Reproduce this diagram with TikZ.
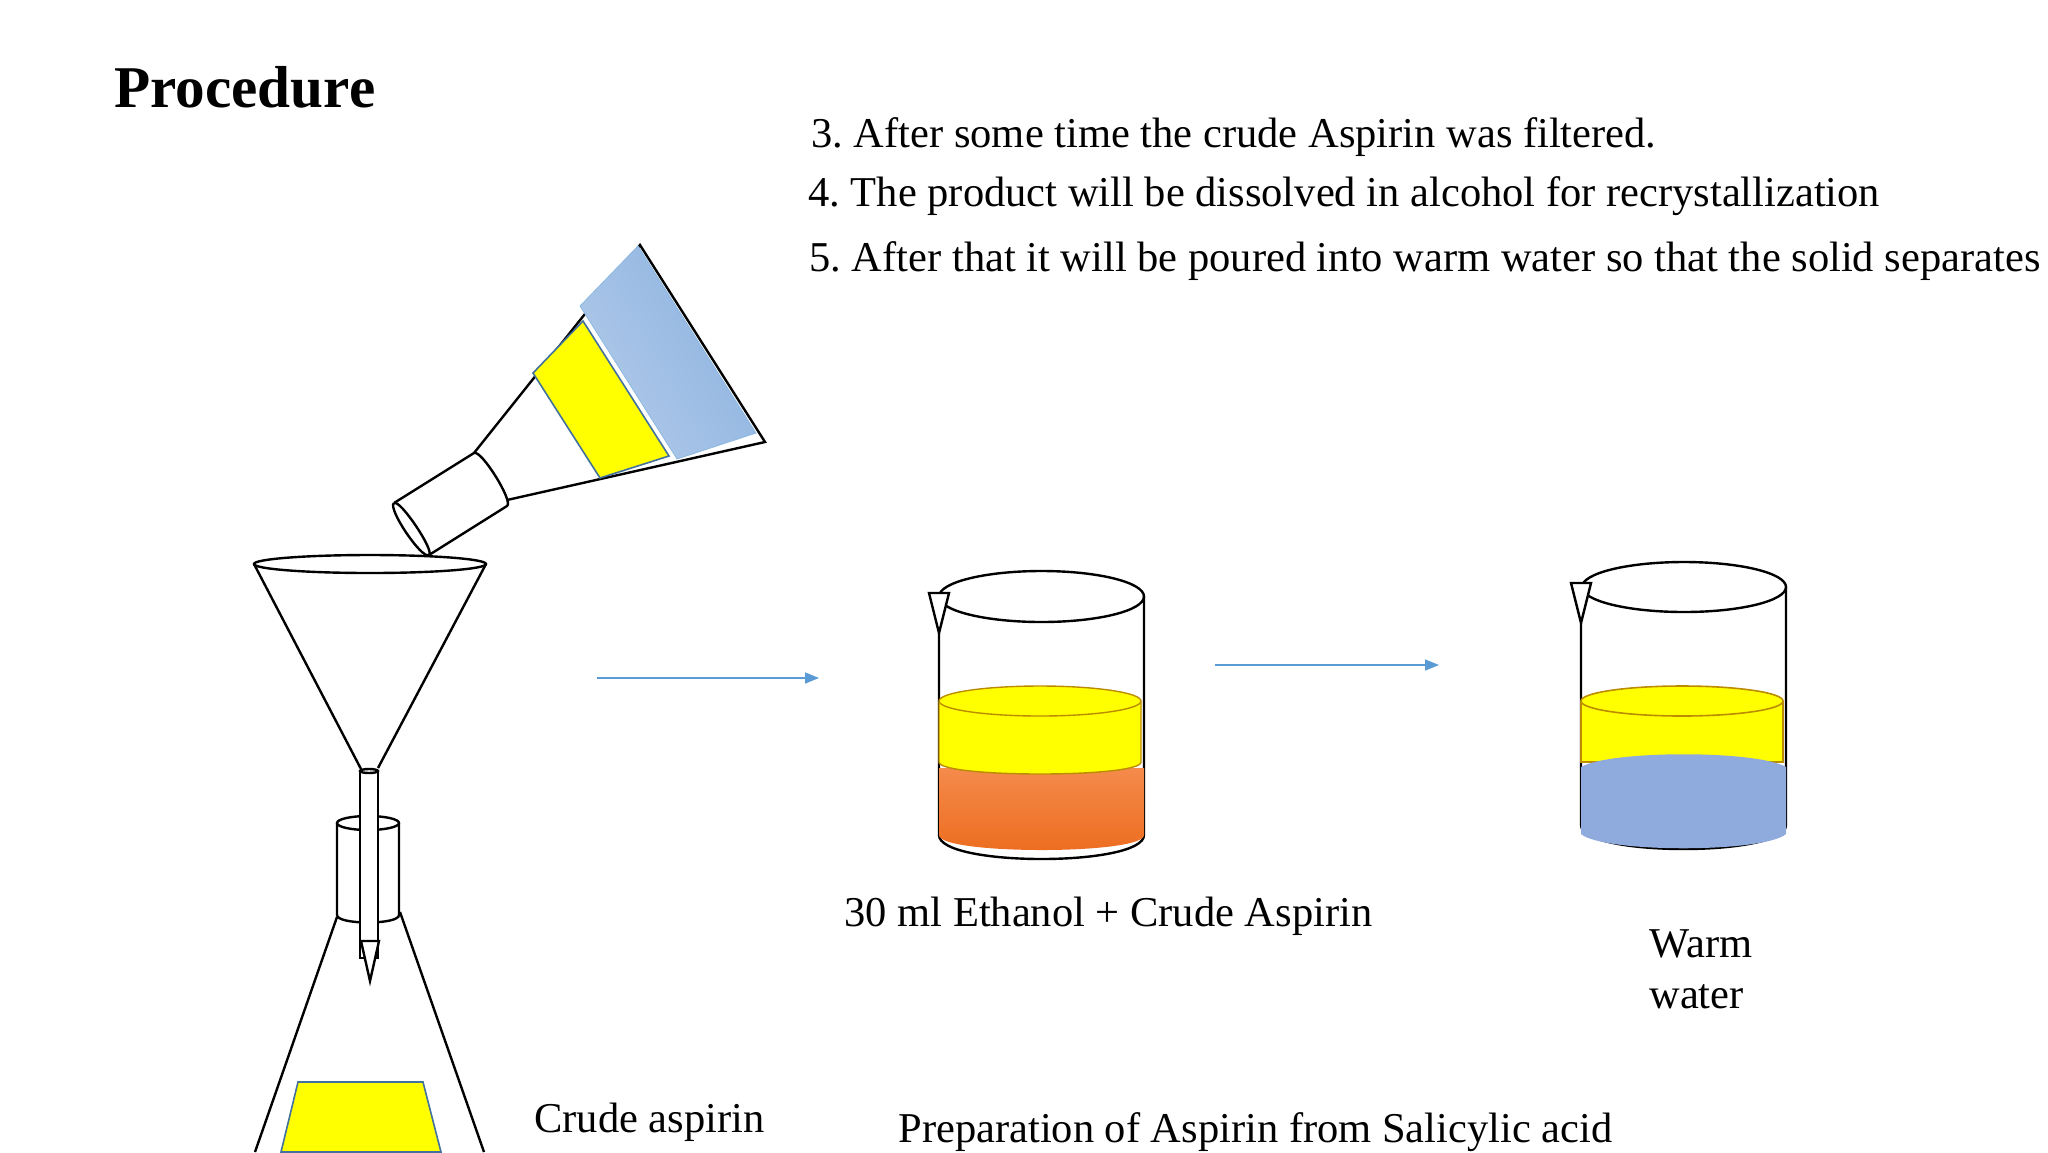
\documentclass[tikz,border=0pt]{standalone}
\usepackage{fontspec}
\setmainfont{Liberation Serif}
\usetikzlibrary{arrows.meta}
\definecolor{liquidyellow}{HTML}{FFFF00}
\definecolor{liquidedge}{HTML}{41719C}
\definecolor{goldedge}{HTML}{BC8C00}
\definecolor{flowblue}{HTML}{5B9BD5}
\definecolor{waterblue}{HTML}{8FAADC}
\definecolor{bottlelight}{HTML}{B0CAEA}
\definecolor{bottledark}{HTML}{8DB2DF}
\definecolor{orangetop}{HTML}{F58A4B}
\definecolor{orangelow}{HTML}{EC6C1E}
\tikzset{
    glass/.style={draw=black, line width=1.2pt, fill=white},
    edge/.style={draw=black, line width=1.2pt},
    label/.style={anchor=base west, inner sep=0pt, font=\fontsize{21.25}{25}\selectfont\frenchspacing},
    flow/.style={draw=flowblue, line width=0.8pt, -{Triangle[length=7pt, width=5.5pt]}},
}

\begin{document}
\begin{tikzpicture}[x=0.5pt, y=-0.5pt]
    \useasboundingbox (0,0) rectangle (2048,1152);
    \clip (0,0) rectangle (2048,1152);

    \node[label, font=\fontsize{29.6}{34}\selectfont\bfseries] (title) at (114,107) {Procedure};
    \node[label] (stepc) at (811,147) {3. After some time the crude Aspirin was filtered.};
    \node[label] (stepd) at (808,206) {4. The product will be dissolved in alcohol for recrystallization};
    \node[label] (stepe) at (809,271) {5. After that it will be poured into warm water so that the solid separates};

    % flask
    \draw[edge] (337,917) -- (255,1152);
    \draw[edge] (400,912) -- (484,1152);
    \filldraw[fill=liquidyellow, draw=liquidedge, line width=0.8pt] (298,1082) -- (423,1082) -- (441,1152) -- (281,1152) -- cycle;
    \draw[glass] (337,823) -- (337,915) .. controls (337,925) and (399,925) .. (399,915) -- (399,823);
    \draw[glass] (368,823) ellipse [x radius=31, y radius=7];
    \draw[glass] (360,771) rectangle (378,958);
    \draw[glass] (369,771) ellipse [x radius=9, y radius=2];
    \draw[glass] (361,941) -- (379,941) -- (370,981) -- cycle;

    % funnel
    \draw[edge] (254,564) -- (361,769);
    \draw[edge] (486,564) -- (378,768);
    \draw[edge] (370,564) ellipse [x radius=116, y radius=9];

    % bottle
    \draw[edge] (474,453) -- (640,245) -- (765,442) -- (507,500);
    \shade[bottom color=bottlelight, top color=bottledark, shading angle=-60]
        (638,246) -- (756,433) -- (677,459) -- (580,306) -- cycle;
    \draw[flowblue!70!white, line width=0.4pt] (638,246) -- (756,433) -- (677,459) -- (580,306) -- cycle;
    \filldraw[fill=liquidyellow, draw=liquidedge, line width=0.8pt] (583,321) -- (669,456) -- (600,478) -- (533,373) -- cycle;
    \draw[edge] (394,503) -- (474,453) .. controls (481,449) and (514,502) .. (507,506) -- (429,555);
    \draw[edge] (394,503) .. controls (387,508) and (422,560) .. (429,555);
    \draw[edge] (394,503) .. controls (400,499) and (435,551) .. (429,555);

    % first beaker
    \draw[edge] (939,633) -- (939,835) .. controls (939,867) and (1144,867) .. (1144,835) -- (1144,596);
    \shade[top color=orangetop, bottom color=orangelow]
        (939,768) -- (939,835) .. controls (939,855) and (1144,855) .. (1144,835) -- (1144,768) -- cycle;
    \filldraw[fill=liquidyellow, draw=goldedge, line width=0.7pt] (939,702) -- (939,762) .. controls (939,778) and (1141,778) .. (1141,762) -- (1141,702);
    \filldraw[fill=liquidyellow, draw=goldedge, line width=0.7pt] (1040,701) ellipse [x radius=101, y radius=15];
    \draw[edge] (1041.5,596.5) ellipse [x radius=102.5, y radius=25.5];
    \draw[glass] (929,593) -- (949,593) -- (939,633) -- cycle;

    % second beaker
    \draw[edge] (1581,623) -- (1581,825) .. controls (1581,857) and (1786,857) .. (1786,825) -- (1786,587);
    \filldraw[fill=liquidyellow, draw=goldedge, line width=0.8pt] (1581,701) -- (1581,762) -- (1783,762) -- (1783,701);
    \filldraw[fill=liquidyellow, draw=goldedge, line width=0.8pt] (1682,701) ellipse [x radius=101, y radius=15];
    \fill[waterblue] (1581,767) .. controls (1610,750) and (1757,750) .. (1786,767) -- (1786,834) .. controls (1764,853) and (1603,853) .. (1581,834) -- cycle;
    \draw[edge] (1684,587) ellipse [x radius=102, y radius=25];
    \draw[glass] (1571,583) -- (1591,583) -- (1581,623) -- cycle;

    % arrows
    \coordinate (flowa) at (597,678);
    \coordinate (flowb) at (819,678);
    \coordinate (flowc) at (1215,665);
    \coordinate (flowd) at (1439,665);
    \draw[flow] (flowa) -- (flowb);
    \draw[flow] (flowc) -- (flowd);

    \node[label] (mixture) at (844,926) {30 ml Ethanol + Crude Aspirin};
    \node[label] (warma) at (1649,957) {Warm};
    \node[label] (warmb) at (1649,1008) {water};
    \node[label] (crude) at (534,1132) {Crude aspirin};
    \node[label] (caption) at (898,1142) {Preparation of Aspirin from Salicylic acid};
\end{tikzpicture}
\end{document}
